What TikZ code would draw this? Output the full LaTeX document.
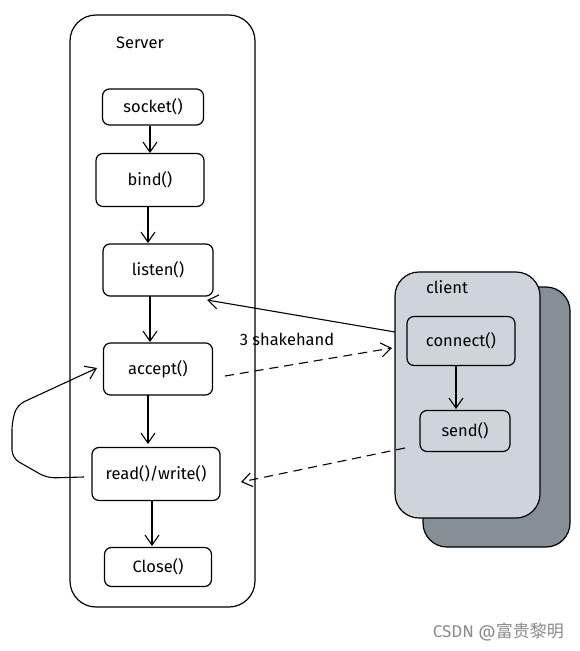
\documentclass[tikz,border=0pt]{standalone}
\usepackage{fontspec}
\setmainfont{Fira Sans}
\newfontfamily\cjkfont{Noto Sans CJK SC}
\usetikzlibrary{arrows.meta}
\definecolor{clientfront}{HTML}{CED4DA}
\definecolor{clientback}{HTML}{868E96}
\definecolor{wm}{HTML}{8A8A8A}
\begin{document}
\begin{tikzpicture}[x=1pt,y=-1pt,
  box/.style={draw, line width=1.2pt, rounded corners=7pt, inner sep=0pt, font=\fontsize{16.5}{18}\selectfont},
  container/.style={draw, line width=1.2pt, rounded corners=26pt},
  flow/.style={draw, line width=1.1pt, -{Straight Barb[length=10pt,width=14pt]}},
  lbl/.style={font=\fontsize{16.5}{18}\selectfont, inner sep=0pt}
]
\useasboundingbox (0,0) rectangle (579,651);
% server container
\draw[container, fill=white] (70,15) rectangle (255,607);
\node[lbl] (srvlbl) at (140,43) {Server};
% server nodes
\node[box, minimum width=101pt, minimum height=36pt] (socket) at (153,107) {socket()};
\node[box, minimum width=108pt, minimum height=53pt] (bind) at (150,180) {bind()};
\node[box, minimum width=110pt, minimum height=52pt] (listen) at (158,270) {listen()};
\node[box, minimum width=109pt, minimum height=52pt] (accept) at (158,369) {accept()};
\node[box, minimum width=128pt, minimum height=53pt] (rw) at (156,474) {read()/write()};
\node[box, minimum width=107pt, minimum height=39pt] (close) at (158,567) {Close()};
% client back
\draw[line width=1.2pt, rounded corners=24pt, fill=clientback] (423,287) rectangle (570,547);
\draw[line width=1.2pt, rounded corners=24pt, fill=clientfront] (395,272) rectangle (540,518);
\node[lbl] (clilbl) at (447,287) {client};
\node[box, fill=clientfront, minimum width=108pt, minimum height=49pt] (connect) at (461,341) {connect()};
\node[box, fill=clientfront, minimum width=90pt, minimum height=41pt] (send) at (465,431) {send()};
% coordinates for connector ends
\coordinate (s1) at (150,125.5);
\coordinate (b1) at (150,153);
\coordinate (b2) at (148,206.5);
\coordinate (l1) at (148,243);
\coordinate (l2) at (150,296);
\coordinate (a1) at (150,342);
\coordinate (a2) at (148,395);
\coordinate (r1) at (148,444);
\coordinate (r2) at (152,500.5);
\coordinate (c1) at (152,546);
\coordinate (cn1) at (456,366);
\coordinate (sd1) at (456,409);
% vertical flow arrows
\draw[flow] (s1) -- (b1);
\draw[flow] (b2) -- (l1);
\draw[flow] (l2) -- (a1);
\draw[flow] (a2) -- (r1);
\draw[flow] (r2) -- (c1);
\draw[flow] (cn1) -- (sd1);
% handshake connectors
\coordinate (cstart) at (395,332);
\coordinate (ltip) at (207,300);
\draw[flow] (cstart) -- (ltip);
\coordinate (astart) at (225,376);
\coordinate (ctip) at (392,348);
\draw[flow, dashed, dash pattern=on 9pt off 6pt] (astart) -- (ctip);
\node[lbl] (shake) at (287,339) {3 shakehand};
\coordinate (sdstart) at (405,448);
\coordinate (rtip) at (241,482);
\draw[flow, dashed, dash pattern=on 9pt off 6pt] (sdstart) -- (rtip);
% loop from read/write back to accept
\coordinate (rwl) at (84,477);
\coordinate (accl) at (97,368);
\draw[flow, rounded corners=8pt] (rwl) -- (47,478) -- (12,458) -- (12,422) -- (17,405) -- (accl);
% watermark
\node[font=\fontsize{17}{19}\selectfont, text=wm, anchor=east, inner sep=0pt] (wmark) at (564,632) {CSDN @{\cjkfont 富贵黎明}};
\end{tikzpicture}
\end{document}
